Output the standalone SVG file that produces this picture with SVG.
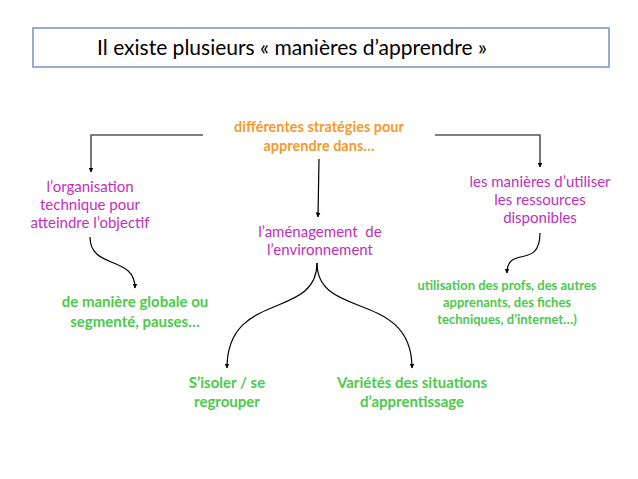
<svg xmlns="http://www.w3.org/2000/svg" width="638" height="479" viewBox="0 0 638 479">
<defs>
<marker id="ah" viewBox="0 0 10 10" refX="9" refY="5" markerWidth="5" markerHeight="5" orient="auto-start-reverse" markerUnits="userSpaceOnUse">
<path d="M0,0 L10,5 L0,10 z" fill="#000"/>
</marker>
<style>
text{font-family:Lato,"Open Sans","Liberation Sans",sans-serif;text-anchor:middle}
.title{font-size:21px;fill:#000}
.or{font-size:14.5px;font-weight:bold;fill:#F39A2E}
.mg{font-size:15px;fill:#C030B8}
.gr{font-size:15px;font-weight:bold;fill:#4CC94C}
.grs{font-size:13px;font-weight:bold;fill:#4CC94C}
.c{fill:none;stroke:#000;stroke-width:1.2;marker-end:url(#ah)}
.cg{fill:none;stroke:#555;stroke-width:1.6;marker-end:url(#ah)}
</style>
</defs>
<rect width="638" height="479" fill="#fff"/>
<g id="title">
<rect x="33" y="28" width="576" height="39" fill="#fff" stroke="#7391C4" stroke-width="1.5"/>
<text class="title" x="292" y="55">Il existe plusieurs « manières d’apprendre »</text>
</g>
<g id="strategies">
<text class="or" x="319" y="132">différentes stratégies pour</text>
<text class="or" x="319" y="151">apprendre dans…</text>
</g>
<g id="organisation">
<text class="mg" x="90" y="192">l’organisation</text>
<text class="mg" x="90" y="210">technique pour</text>
<text class="mg" x="90" y="228">atteindre l’objectif</text>
</g>
<g id="amenagement">
<text class="mg" x="320" y="237" xml:space="preserve">l’aménagement  de</text>
<text class="mg" x="320" y="255">l’environnement</text>
</g>
<g id="ressources">
<text class="mg" x="540" y="187">les manières d’utiliser</text>
<text class="mg" x="540" y="205">les ressources</text>
<text class="mg" x="540" y="223">disponibles</text>
</g>
<g id="globale">
<text class="gr" x="135" y="307">de manière globale ou</text>
<text class="gr" x="135" y="327">segmenté, pauses…</text>
</g>
<g id="utilisation">
<text class="grs" x="507" y="290">utilisation des profs, des autres</text>
<text class="grs" x="507" y="307">apprenants, des fiches</text>
<text class="grs" x="507" y="324">techniques, d’internet…)</text>
</g>
<g id="isoler">
<text class="gr" x="227" y="388">S’isoler / se</text>
<text class="gr" x="227" y="407">regrouper</text>
</g>
<g id="varietes">
<text class="gr" x="412" y="388">Variétés des situations</text>
<text class="gr" x="412" y="407">d’apprentissage</text>
</g>
<g id="connectors">
<path class="cg" d="M203,135 H91 V172"/>
<path class="cg" d="M435,135 H540 V167"/>
<path class="c" d="M319,159 L318,217"/>
<path class="c" d="M90,237 C90,270 135,255 135,288"/>
<path class="c" d="M540,233 C540,270 507,245 507,273"/>
<path class="c" d="M317,263 C317,320 227,290 227,368"/>
<path class="c" d="M317,263 C317,320 412,290 412,368"/>
</g>
</svg>
